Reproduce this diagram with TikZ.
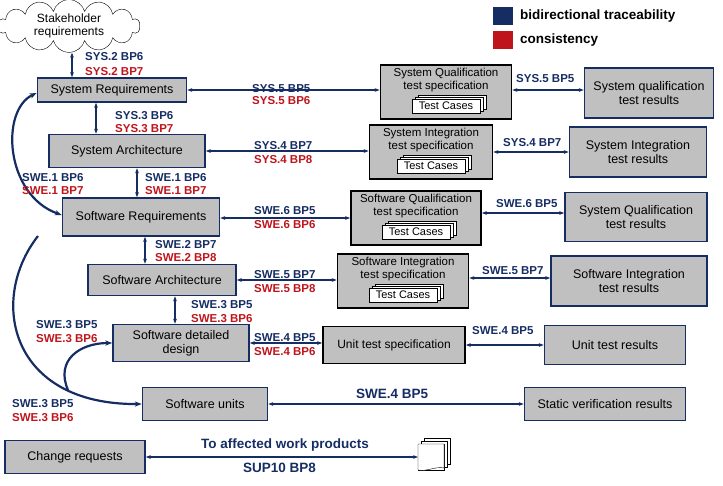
\documentclass[tikz,border=0pt]{standalone}
\usepackage{fontspec}
\setmainfont{Liberation Sans}
\usetikzlibrary{shapes.symbols,arrows.meta}
\definecolor{nv}{RGB}{22,45,100}
\definecolor{rd}{RGB}{192,20,28}
\definecolor{bx}{RGB}{192,192,192}
\begin{document}
\begin{tikzpicture}[x=1pt,y=-1pt,
 box/.style={draw=nv,line width=1.6pt,fill=bx,inner sep=2pt,align=center,font=\fontsize{12.5}{14}\selectfont},
 spec/.style={draw=black,line width=1.8pt,fill=bx,align=center,font=\fontsize{12}{13}\selectfont},
 bl/.style={font=\bfseries\fontsize{11.5}{12}\selectfont,text=nv,anchor=west,inner sep=0},
 rl/.style={font=\bfseries\fontsize{11.5}{12}\selectfont,text=rd,anchor=west,inner sep=0},
 ar/.style={draw=nv,line width=1.3pt,{Stealth[length=5pt]}-{Stealth[length=5pt]}},
 ca/.style={draw=nv,line width=2.2pt,-{Stealth[length=7pt]}},
 tc/.style={draw=black,fill=white,minimum width=68pt,minimum height=14pt,font=\fontsize{11}{11}\selectfont,inner sep=0}]
\useasboundingbox (0,0) rectangle (723,485);
% legend
\fill[nv] (493,7) rectangle (513,25);
\fill[rd] (493,31) rectangle (513,49);
\node[font=\bfseries\fontsize{13.5}{14}\selectfont,anchor=west,inner sep=0] (lg1) at (520,16) {bidirectional traceability};
\node[font=\bfseries\fontsize{13.5}{14}\selectfont,anchor=west,inner sep=0] (lg2) at (520,40) {consistency};
% left boxes
\node[cloud,draw,fill=white,cloud puffs=14,aspect=3.2,minimum width=142pt,minimum height=46pt,inner sep=0,align=center,font=\fontsize{12}{13.5}\selectfont] (sh) at (69,26) {Stakeholder\\requirements};
\node[box,minimum width=149pt,minimum height=24pt] (sr) at (112,90) {System Requirements};
\node[box,minimum width=156pt,minimum height=33pt] (sa) at (127,151) {System Architecture};
\node[box,minimum width=157pt,minimum height=38pt] (wr) at (141,217) {Software Requirements};
\node[box,minimum width=148pt,minimum height=31pt] (wa) at (162,280) {Software Architecture};
\node[box,minimum width=136pt,minimum height=37pt] (dd) at (181,343) {Software detailed\\design};
\node[box,minimum width=125pt,minimum height=33pt] (su) at (205,404) {Software units};
\node[box,minimum width=140pt,minimum height=33pt] (cr) at (75,457) {Change requests};
% spec boxes
\foreach \n/\cx/\cy/\w/\t in {qs/446/92/131/System Qualification, is/431/152/123/System Integration, ws/416/218/130/Software Qualification, wi/403/281/131/Software Integration}{
 \node[spec,minimum width=\w pt,minimum height=54pt,anchor=center] (\n) at (\cx,\cy) {};
 \node[font=\fontsize{11.5}{12.5}\selectfont,align=center,inner sep=0] (\n t) at (\cx,\cy-12) {\t\\test specification};
 \node[tc] (\n c3) at (\cx+6,\cy+10) {};
 \node[tc] (\n c2) at (\cx+3,\cy+12) {};
 \node[tc] (\n c) at (\cx,\cy+14) {Test Cases};
}
\node[spec,minimum width=142pt,minimum height=37pt] (us) at (394,345) {Unit test specification};
% results
\node[box,minimum width=129pt,minimum height=50pt] (qr) at (649,93) {System qualification\\test results};
\node[box,minimum width=137pt,minimum height=50pt] (ir) at (638,152) {System Integration\\test results};
\node[box,minimum width=142pt,minimum height=49pt] (wqr) at (636,217) {System Qualification\\test results};
\node[box,minimum width=156pt,minimum height=50pt] (wir) at (629,281) {Software Integration\\test results};
\node[box,minimum width=141pt,minimum height=39pt] (ur) at (615,345) {Unit test results};
\node[box,minimum width=161pt,minimum height=33pt] (sv) at (605,404) {Static verification results};
% doc icon
\foreach \d in {6,3,0}{\draw[fill=white] (418+\d,444-\d) rectangle (444+\d,470-\d);}
\draw[fill=white] (418,444) -- (444,444) -- (444,468) .. controls (436,466) and (426,472) .. (418,470) -- cycle;
\coordinate (doc) at (418,457);
% vertical connectors
\draw[ar] (sh.south -| 72,0) -- (sr.north -| 72,0);
\draw[ar] (sr.south -| 96,0) -- (sa.north -| 96,0);
\draw[ar] (sa.south -| 137,0) -- (wr.north -| 137,0);
\draw[ar] (wr.south -| 145,0) -- (wa.north -| 145,0);
\draw[ar] (wa.south -| 175,0) -- (dd.north -| 175,0);
% horizontal connectors
\draw[ar] (sr.east) -- (qs.west |- sr.east);
\draw[ar] (qs.east |- 0,90) -- (qr.west |- 0,90);
\draw[ar] (sa.east) -- (is.west |- sa.east);
\draw[ar] (is.east |- 0,152) -- (ir.west |- 0,152);
\draw[ar] (wr.east |- 0,218) -- (ws.west |- 0,218);
\draw[ar] (ws.east |- 0,213) -- (wqr.west |- 0,213);
\draw[ar] (wa.east) -- (wi.west |- wa.east);
\draw[ar] (wi.east |- 0,278) -- (wir.west |- 0,278);
\draw[ar] (dd.east) -- (us.west |- dd.east);
\draw[ar] (us.east) -- (ur.west);
\draw[ar] (su.east) -- (sv.west);
\draw[ar] (cr.east) -- (doc);
% curves
\draw[ca,{Stealth[length=7pt]}-{Stealth[length=7pt]}] ([yshift=-3pt]sr.west) .. controls (0,110) and (5,195) .. ([yshift=2pt]wr.west);
\draw[ca] (38,236) .. controls (-12,300) and (10,405) .. (su.west);
\coordinate (cb) at (68,390);
\draw[ca] (cb) .. controls (55,360) and (80,343) .. (dd.west);
% labels
\node[bl] (l1) at (85,57) {SYS.2 BP6}; \node[rl] (l1r) at (85,72) {SYS.2 BP7};
\node[bl] (l2) at (252,89) {SYS.5 BP5}; \node[rl] (l2r) at (252,101) {SYS.5 BP6};
\node[bl] (l3) at (516,79) {SYS.5 BP5};
\node[bl] (l4) at (115,116) {SYS.3 BP6}; \node[rl] (l4r) at (115,129) {SYS.3 BP7};
\node[bl] (l5) at (254,146) {SYS.4 BP7}; \node[rl] (l5r) at (254,160) {SYS.4 BP8};
\node[bl] (l6) at (503,143) {SYS.4 BP7};
\node[bl] (l7) at (22,178) {SWE.1 BP6}; \node[rl] (l7r) at (22,191) {SWE.1 BP7};
\node[bl] (l8) at (145,178) {SWE.1 BP6}; \node[rl] (l8r) at (145,191) {SWE.1 BP7};
\node[bl] (l9) at (254,211) {SWE.6 BP5}; \node[rl] (l9r) at (254,225) {SWE.6 BP6};
\node[bl] (l10) at (496,204) {SWE.6 BP5};
\node[bl] (l11) at (155,245) {SWE.2 BP7}; \node[rl] (l11r) at (155,258) {SWE.2 BP8};
\node[bl] (l12) at (254,275) {SWE.5 BP7}; \node[rl] (l12r) at (254,289) {SWE.5 BP8};
\node[bl] (l13) at (482,271) {SWE.5 BP7};
\node[bl] (l14) at (191,305) {SWE.3 BP5}; \node[rl] (l14r) at (191,319) {SWE.3 BP6};
\node[bl] (l15) at (36,325) {SWE.3 BP5}; \node[rl] (l15r) at (36,339) {SWE.3 BP6};
\node[bl] (l16) at (254,338) {SWE.4 BP5}; \node[rl] (l16r) at (254,352) {SWE.4 BP6};
\node[bl] (l17) at (472,331) {SWE.4 BP5};
\node[bl] (l18) at (12,404) {SWE.3 BP5}; \node[rl] (l18r) at (12,418) {SWE.3 BP6};
\node[bl,font=\bfseries\fontsize{13.5}{14}\selectfont] (l19) at (356,394) {SWE.4 BP5};
\node[bl,font=\bfseries\fontsize{13.5}{14}\selectfont] (l20) at (201,445) {To affected work products};
\node[bl,font=\bfseries\fontsize{13.5}{14}\selectfont] (l21) at (243,468) {SUP10 BP8};
\end{tikzpicture}
\end{document}
